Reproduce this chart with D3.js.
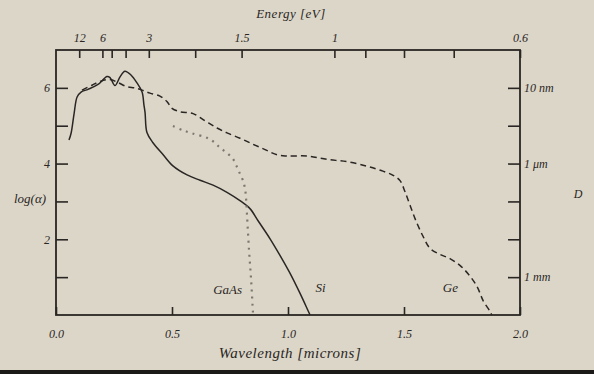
<!DOCTYPE html>
<html>
<head>
<meta charset="utf-8">
<script src="https://cdn.jsdelivr.net/npm/d3@7"></script>
<style>
  body { margin: 0; background: #dcd6c9; }
  svg { display: block; }
  .ax text { font-family: "Liberation Serif", serif; font-style: italic; fill: #2a2623; }
</style>
</head>
<body>
<div id="chart"></div>
<script>
// wavelength [microns] vs log(alpha)
const si = [
  [0.056, 4.62], [0.065, 4.80], [0.078, 5.32], [0.091, 5.76], [0.108, 5.89],
  [0.138, 5.96], [0.181, 6.09], [0.220, 6.30], [0.233, 6.27], [0.254, 6.06],
  [0.276, 6.29], [0.297, 6.44], [0.323, 6.34], [0.349, 6.13], [0.371, 5.89],
  [0.379, 5.55], [0.384, 5.34], [0.392, 4.82], [0.418, 4.55], [0.461, 4.24],
  [0.504, 3.94], [0.565, 3.70], [0.621, 3.56], [0.677, 3.43], [0.737, 3.24],
  [0.793, 3.02], [0.836, 2.81], [0.871, 2.49], [0.922, 2.02], [0.966, 1.57],
  [1.009, 1.10], [1.052, 0.57], [1.086, 0.12], [1.095, 0.0]
];
const ge = [
  [0.112, 5.94], [0.155, 6.07], [0.190, 6.17], [0.233, 6.22], [0.267, 6.14],
  [0.306, 6.03], [0.341, 6.00], [0.371, 5.94], [0.405, 5.86], [0.448, 5.78],
  [0.478, 5.64], [0.500, 5.46], [0.534, 5.37], [0.591, 5.32], [0.642, 5.13],
  [0.694, 4.94], [0.737, 4.81], [0.793, 4.67], [0.849, 4.51], [0.901, 4.37],
  [0.953, 4.23], [0.996, 4.20], [1.082, 4.20], [1.168, 4.11], [1.254, 4.05],
  [1.341, 3.93], [1.409, 3.80], [1.453, 3.69], [1.483, 3.55], [1.504, 3.26],
  [1.526, 2.90], [1.552, 2.48], [1.582, 2.08], [1.612, 1.76], [1.655, 1.60],
  [1.698, 1.49], [1.741, 1.31], [1.776, 1.09], [1.815, 0.75], [1.841, 0.38],
  [1.871, 0.09], [1.878, 0.0]
];
const gaas = [
  [0.504, 4.99], [0.547, 4.88], [0.586, 4.80], [0.651, 4.68], [0.685, 4.55],
  [0.707, 4.42], [0.737, 4.28], [0.763, 4.12], [0.780, 3.91], [0.793, 3.73],
  [0.806, 3.55], [0.815, 3.33], [0.819, 3.10], [0.823, 2.68], [0.832, 1.71],
  [0.841, 0.93], [0.849, 0.07], [0.850, 0.0]
];

const wlTicks = [0, 0.5, 1.0, 1.5, 2.0];
const logTicks = [1, 2, 3, 4, 5, 6];
const logLabels = [2, 4, 6];
const energyTicks = [12, 6, 5, 4, 3, 2, 1.5, 1, 0.9, 0.8, 0.7, 0.6];
const energyLabels = [12, 6, 3, 1.5, 1, 0.6];
const depthLabels = { 6: "10 nm", 4: "1 μm", 1: "1 mm" };
const curveNames = [["GaAs", 0.74, 0.55], ["Si", 1.14, 0.6], ["Ge", 1.7, 0.6]];

const W = 594, H = 374;
const M = { LEFT: 56, RIGHT: 520, TOP: 50, BOTTOM: 315 };
const ink = "#2a2623";

const svg = d3.select("#chart").append("svg").attr("width", W).attr("height", H);

// photo edge at the bottom
svg.append("rect").attr("x", 0).attr("y", 370).attr("width", W).attr("height", 4).attr("fill", "#1c1a18");

const x = d3.scaleLinear().domain([0, 2]).range([M.LEFT, M.RIGHT]);
const y = d3.scaleLinear().domain([0, 7]).range([M.BOTTOM, M.TOP]);
// the figure's energy axis uses E = 1.2 / lambda
const eToL = e => 1.2 / e;

// frame
svg.append("rect")
  .attr("x", M.LEFT).attr("y", M.TOP)
  .attr("width", M.RIGHT - M.LEFT).attr("height", M.BOTTOM - M.TOP)
  .attr("fill", "none").attr("stroke", ink).attr("stroke-width", 1.8);

function style(g) {
  g.select(".domain").remove();
  g.selectAll(".tick line").attr("stroke", ink).attr("stroke-width", 1.6);
  g.selectAll("text").attr("fill", ink);
}

// bottom axis
svg.append("g").attr("class", "ax")
  .attr("transform", `translate(0,${M.BOTTOM})`)
  .call(d3.axisBottom(x).tickValues(wlTicks).tickSize(-8).tickPadding(14).tickFormat(d3.format(".1f")))
  .call(style)
  .selectAll("text").attr("font-size", 12);

// top axis (energy)
svg.append("g").attr("class", "ax")
  .attr("transform", `translate(0,${M.TOP})`)
  .call(d3.axisTop(x).tickValues(energyTicks.map(eToL)).tickSize(-8).tickPadding(8)
    .tickFormat((d, i) => energyLabels.includes(energyTicks[i]) ? energyTicks[i] : ""))
  .call(style)
  .selectAll("text").attr("font-size", 12);

// left axis
svg.append("g").attr("class", "ax")
  .attr("transform", `translate(${M.LEFT},0)`)
  .call(d3.axisLeft(y).tickValues(logTicks).tickSize(-12).tickPadding(6)
    .tickFormat(d => logLabels.includes(d) ? d : ""))
  .call(style)
  .selectAll("text").attr("font-size", 12);

// right axis (penetration depth)
svg.append("g").attr("class", "ax")
  .attr("transform", `translate(${M.RIGHT},0)`)
  .call(d3.axisRight(y).tickValues(logTicks).tickSize(-12).tickPadding(4)
    .tickFormat(d => depthLabels[d] || ""))
  .call(style)
  .selectAll("text").attr("font-size", 12);

// axis titles
const titles = svg.append("g").attr("class", "ax");
titles.append("text").attr("x", 290).attr("y", 358).attr("text-anchor", "middle")
  .attr("font-size", 15).attr("letter-spacing", 0.5).text("Wavelength [microns]");
titles.append("text").attr("x", 291).attr("y", 18).attr("text-anchor", "middle")
  .attr("font-size", 13).attr("letter-spacing", 0.5).text("Energy [eV]");
titles.append("text").attr("x", 30).attr("y", 203).attr("text-anchor", "middle")
  .attr("font-size", 13).text("log(α)");
titles.append("text").attr("x", 578).attr("y", 198).attr("text-anchor", "middle")
  .attr("font-size", 12).text("D");

// curves
const line = d3.line().x(d => x(d[0])).y(d => y(d[1])).curve(d3.curveCatmullRom.alpha(0.5));

svg.append("path").datum(si).attr("d", line)
  .attr("fill", "none").attr("stroke", ink).attr("stroke-width", 1.5);
svg.append("path").datum(ge).attr("d", line)
  .attr("fill", "none").attr("stroke", ink).attr("stroke-width", 1.5).attr("stroke-dasharray", "6,4");
svg.append("path").datum(gaas).attr("d", line)
  .attr("fill", "none").attr("stroke", "#7d7770").attr("stroke-width", 2.2).attr("stroke-dasharray", "2,5");

// curve labels
titles.selectAll(".name").data(curveNames).join("text")
  .attr("class", "name")
  .attr("x", d => x(d[1])).attr("y", d => y(d[2]))
  .attr("text-anchor", "middle").attr("font-size", 13)
  .text(d => d[0]);
</script>
</body>
</html>
